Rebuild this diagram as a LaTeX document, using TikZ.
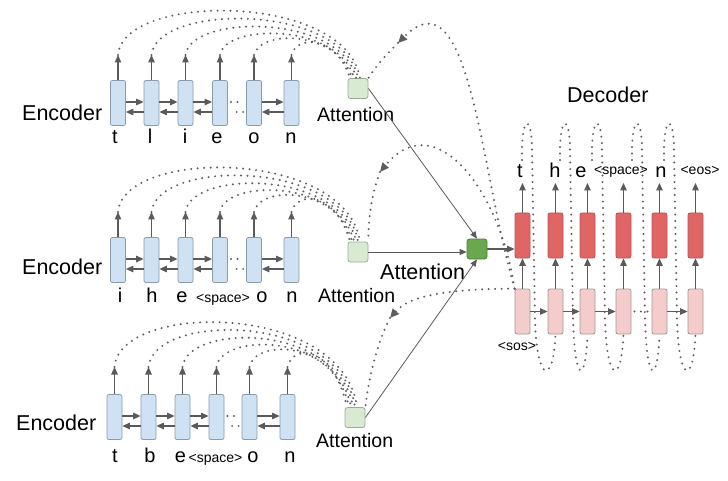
\documentclass[tikz,border=0pt]{standalone}
\usepackage{fontspec}
\setmainfont{Liberation Sans}
\usetikzlibrary{arrows.meta,calc}
\definecolor{encfill}{HTML}{CFE2F3}
\definecolor{encdraw}{HTML}{8C9BAB}
\definecolor{attfill}{HTML}{D9EAD3}
\definecolor{attdraw}{HTML}{98AE92}
\definecolor{mainfill}{HTML}{6AA84F}
\definecolor{maindraw}{HTML}{4A7F38}
\definecolor{redfill}{HTML}{E06666}
\definecolor{reddraw}{HTML}{B85353}
\definecolor{pinkfill}{HTML}{F4CCCC}
\definecolor{pinkdraw}{HTML}{A89595}
\definecolor{arr}{HTML}{5A5A5A}
\definecolor{dotc}{HTML}{5E5E5E}
\tikzset{
  encbox/.style={draw=encdraw, fill=encfill, rounded corners=2pt, minimum width=15pt, minimum height=45pt, inner sep=0pt, line width=0.8pt},
  attbox/.style={draw=attdraw, fill=attfill, rounded corners=2.5pt, minimum size=20pt, inner sep=0pt, line width=0.8pt},
  mainbox/.style={draw=maindraw, fill=mainfill, rounded corners=2.5pt, minimum size=20pt, inner sep=0pt, line width=0.8pt},
  redbox/.style={draw=reddraw, fill=redfill, rounded corners=2pt, minimum width=15pt, minimum height=45pt, inner sep=0pt, line width=0.8pt},
  pinkbox/.style={draw=pinkdraw, fill=pinkfill, rounded corners=2pt, minimum width=15pt, minimum height=45pt, inner sep=0pt, line width=0.8pt},
  arrow/.style={draw=arr, line width=1.1pt, -{Triangle[length=7.5pt,width=6.5pt]}},
  thinarrow/.style={draw=arr, line width=0.8pt, -{Triangle[length=7pt,width=6pt]}},
  dotline/.style={draw=dotc, line width=2.2pt, dash pattern=on 0pt off 6.5pt, line cap=round},
  dotarrow/.style={dotline, -{Triangle[length=9pt,width=8pt,fill=dotc]}},
  lbl/.style={font=\fontsize{20}{24}\selectfont, inner sep=0pt, anchor=base},
  small/.style={font=\fontsize{14}{16}\selectfont, inner sep=0pt, anchor=base},
  biglbl/.style={font=\fontsize{21.5}{25}\selectfont, inner sep=0pt, anchor=base west},
  attlbl/.style={font=\fontsize{19.5}{23}\selectfont, inner sep=0pt, anchor=base west},
}
\newcommand\encarcs[5]{%
  \foreach \j/\dd in {1/44,2/36,3/28,4/21,5/16,6/12} {%
    \pgfmathsetmacro\yc{(8*(#2-\dd)-#2-#5)/6}%
    \pgfmathsetmacro\ex{#4+2-2*\j-12}%
    \pgfmathsetmacro\xs{4-2*\j}%
    \draw[dotline] let \p1=(#1t\j) in (\p1) .. controls (\x1+5pt,-\yc pt) and (\ex pt,-\yc pt) .. ([xshift=\xs pt]#3.north);
  }}
\newcommand\encrow[3]{% #1 prefix, #2 centre y, #3 tip y
  \foreach \i/\k in {1/2,2/3,3/4,5/6} {
    \draw[arrow] ($(#1b\i.east)+(0,-1)$) -- ($(#1b\k.west)+(0,-1)$);
    \draw[arrow] ($(#1b\k.west)+(0,9)$) -- ($(#1b\i.east)+(0,9)$);
  }
  \draw[dotline, shorten <=3pt, shorten >=3pt] ($(#1b4.east)+(0,-1)$) -- ($(#1b5.west)+(0,-1)$);
  \draw[dotline, shorten <=3pt, shorten >=3pt] ($(#1b5.west)+(0,9)$) -- ($(#1b4.east)+(0,9)$);
}
\begin{document}
\begin{tikzpicture}[x=1pt,y=-1pt]
\fill[white] (0,0) rectangle (728,481);
\useasboundingbox (0,0) rectangle (728,481);

% ---------- encoder 1
\foreach \cx [count=\j] in {118,151.5,185.5,220,254,291.5} {
  \node[encbox] (e1b\j) at (\cx,103) {};
  \coordinate (e1t\j) at (\cx,55);
  \draw[arrow] (e1b\j.north) -- (e1t\j);
}
\encrow{e1}{103}{55}
\node[biglbl] (enc1) at (22,121) {Encoder};
\foreach \x/\t [count=\j] in {115/t,150/l,185/i,217/e,254/o,291/n}
  \node[lbl] (e1l\j) at (\x,144) {\t};

% ---------- encoder 2
\foreach \cx [count=\j] in {118,151.5,185.5,220,254,291.5} {
  \node[encbox] (e2b\j) at (\cx,260) {};
  \coordinate (e2t\j) at (\cx,212);
  \draw[arrow] (e2b\j.north) -- (e2t\j);
}
\encrow{e2}{260}{212}
\node[biglbl] (enc2) at (22,274) {Encoder};
\foreach \x/\t [count=\j] in {120/i,152/h,182/e,262/o,292/n}
  \node[lbl] (e2l\j) at (\x,302.5) {\t};
\node[small] (e2sp) at (223,302) {<space>};

% ---------- encoder 3
\foreach \cx [count=\j] in {114.5,148.5,182.5,216.5,249.5,287.5} {
  \node[encbox] (e3b\j) at (\cx,417) {};
  \coordinate (e3t\j) at (\cx,367);
  \draw[arrow] (e3b\j.north) -- (e3t\j);
}
\encrow{e3}{417}{367}
\node[biglbl] (enc3) at (16,430) {Encoder};
\foreach \x/\t [count=\j] in {115/t,150/b,180.5/e,253/o,290/n}
  \node[lbl] (e3l\j) at (\x,462) {\t};
\node[small] (e3sp) at (215.5,462) {<space>};

% ---------- attention nodes
\node[attbox] (a1) at (358,88.5) {};
\node[attbox] (a2) at (358,252) {};
\node[attbox] (a3) at (355,417.5) {};
\node[mainbox] (m) at (477,249) {};
\node[attlbl] (al1) at (317,122) {Attention};
\node[attlbl] (al2) at (318,302.5) {Attention};
\node[attlbl] (al3) at (316,447) {Attention};
\node[biglbl] (ml) at (380,279) {Attention};

\encarcs{e1}{55}{a1}{358}{78.5}
\encarcs{e2}{212}{a2}{358}{242}
\encarcs{e3}{367}{a3}{355}{407.5}

% ---------- decoder
\foreach \cx [count=\j] in {522.5,555.5,587.5,623.5,659.5,695.5} {
  \node[pinkbox] (p\j) at (\cx,311.5) {};
  \node[redbox] (r\j) at (\cx,235.5) {};
  \coordinate (rt\j) at (\cx,183);
  \draw[arrow] (p\j.north) -- (r\j.south);
  \draw[arrow] (r\j.north) -- (rt\j);
}
\foreach \i/\k in {1/2,2/3,3/4,5/6}
  \draw[arrow] (p\i.east) -- (p\k.west);
\draw[dotline, shorten <=3pt, shorten >=3pt] (p4.east) -- (p5.west);

\node[biglbl] (dec) at (567,103) {Decoder};
\node[lbl] (d1) at (520,178) {t};
\node[lbl] (d2) at (555,178) {h};
\node[lbl] (d3) at (581,178) {e};
\node[small] (d4) at (621,175) {<space>};
\node[lbl] (d5) at (661,178) {n};
\node[small] (d6) at (700,175) {<eos>};
\node[small] (sos) at (517,350) {<sos>};

% decoder feedback loops
\foreach \s/\k in {522/2,560/3,592/4,632/5,664/6} {
  \coordinate (ls\k) at (\s,160);
  \draw[dotline] (ls\k) .. controls (\s-1,113) and (\s+10,113) .. (\s+10,150)
    -- (\s+13,320) .. controls (\s+15,385) and ($(p\k.south)+(-2,50)$) .. (p\k.south);
}

% attention connections
\draw[thinarrow] (a1.east) -- (m.north);
\draw[thinarrow] (a2.east) -- (a2.east -| m.west);
\draw[thinarrow] (a3.east) -- (m.south);
\draw[arrow] (m.east) -- (m.east -| r1.west);

% decoder state to attention (dotted, arrow mid-way)
\coordinate (h1) at (398,43);
\coordinate (h2) at (380,172);
\coordinate (h3) at (390,318);
\draw[dotarrow] (p1.north west) .. controls (480,170) and (470,-30) .. (h1);
\draw[dotline] (h1) .. controls (385,56) and (375,67) .. (a1.north east);
\draw[dotarrow] (p1.north west) .. controls (500,190) and (435,105) .. (h2);
\draw[dotline] (h2) .. controls (373,190) and (368,215) .. (a2.north east);
\draw[dotarrow] (p1.north west) .. controls (450,289) and (410,295) .. (h3);
\draw[dotline] (h3) .. controls (378,340) and (368,380) .. (a3.north east);
\end{tikzpicture}
\end{document}
